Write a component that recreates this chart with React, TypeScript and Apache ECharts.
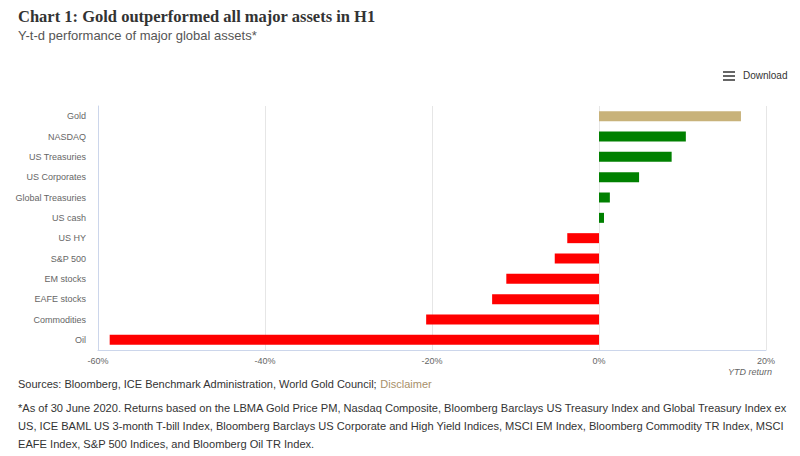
import React, { useEffect, useRef } from "react";
import * as echarts from "echarts";

const categories = [
  "Gold",
  "NASDAQ",
  "US Treasuries",
  "US Corporates",
  "Global Treasuries",
  "US cash",
  "US HY",
  "S&P 500",
  "EM stocks",
  "EAFE stocks",
  "Commodities",
  "Oil",
];
const values = [17.0, 10.4, 8.7, 4.8, 1.3, 0.6, -3.8, -5.3, -11.1, -12.8, -20.7, -58.6];
const xTicks = [-60, -40, -20, 0, 20];

const GOLD = "#c8b27a";
const GREEN = "#008000";
const RED = "#ff0000";

const SANS = "'Liberation Sans', Arial, sans-serif";

export default function App() {
  const ref = useRef<HTMLDivElement>(null);
  useEffect(() => {
    if (!ref.current) return;
    const chart = echarts.init(ref.current, undefined, { renderer: "svg" });
    const data = values.map((v, i) => ({
      value: v,
      itemStyle: { color: i === 0 ? GOLD : v >= 0 ? GREEN : RED },
    }));
    chart.setOption({
      animation: false,
      backgroundColor: "#ffffff",
      grid: { left: 98, right: 34, top: 106, bottom: 106 },
      xAxis: {
        type: "value",
        min: xTicks[0],
        max: xTicks[xTicks.length - 1],
        interval: 20,
        axisLine: { show: true, onZero: false, lineStyle: { color: "#ccd6eb" } },
        axisTick: { show: false },
        splitLine: { show: true, lineStyle: { color: "#e6e6e6" } },
        axisLabel: {
          formatter: (v: number) => `${v}%`,
          color: "#666",
          fontFamily: SANS,
          fontSize: 9,
          margin: 6,
        },
      },
      yAxis: {
        type: "category",
        data: categories,
        inverse: true,
        axisLine: { show: true, onZero: false, lineStyle: { color: "#ccd6eb" } },
        axisTick: { show: false },
        axisLabel: {
          color: "#666",
          fontFamily: SANS,
          fontSize: 9,
          margin: 12,
        },
      },
      series: [
        {
          type: "bar",
          data,
          barWidth: 10,
        },
      ],
      graphic: [
        {
          type: "text",
          left: 18,
          top: 8,
          style: {
            text: "Chart 1: Gold outperformed all major assets in H1",
            fontFamily: "'Liberation Serif', 'DejaVu Serif', serif",
            fontWeight: "bold",
            fontSize: 16.5,
            fill: "#333",
          },
        },
        {
          type: "text",
          left: 18,
          top: 29,
          style: {
            text: "Y-t-d performance of major global assets*",
            fontFamily: SANS,
            fontSize: 13,
            fill: "#555",
          },
        },
        { type: "rect", shape: { x: 723, y: 71, width: 12, height: 2 }, style: { fill: "#666" } },
        { type: "rect", shape: { x: 723, y: 75, width: 12, height: 2 }, style: { fill: "#666" } },
        { type: "rect", shape: { x: 723, y: 79, width: 12, height: 2 }, style: { fill: "#666" } },
        {
          type: "text",
          left: 743,
          top: 70,
          style: { text: "Download", fontFamily: SANS, fontSize: 10, fill: "#333" },
        },
        {
          type: "text",
          right: 28,
          top: 367,
          style: {
            text: "YTD return",
            fontFamily: SANS,
            fontSize: 9,
            fontStyle: "italic",
            fill: "#666",
          },
        },
        {
          type: "text",
          left: 18,
          top: 378,
          style: {
            rich: {
              a: { fontFamily: SANS, fontSize: 11, fill: "#333" },
              b: { fontFamily: SANS, fontSize: 11, fill: "#a8906a" },
            },
            text: "{a|Sources: Bloomberg, ICE Benchmark Administration, World Gold Council; }{b|Disclaimer}",
          },
        },
        {
          type: "text",
          left: 18,
          top: 399,
          style: {
            text:
              "*As of 30 June 2020. Returns based on the LBMA Gold Price PM, Nasdaq Composite, Bloomberg Barclays US Treasury Index and Global Treasury Index ex\nUS, ICE BAML US 3-month T-bill Index, Bloomberg Barclays US Corporate and High Yield Indices, MSCI EM Index, Bloomberg Commodity TR Index, MSCI\nEAFE Index, S&P 500 Indices, and Bloomberg Oil TR Index.",
            fontFamily: SANS,
            fontSize: 11.1,
            lineHeight: 18,
            fill: "#333",
          },
        },
      ],
    });
    return () => chart.dispose();
  }, []);
  return <div ref={ref} style={{ width: 800, height: 456, position: "absolute", left: 0, top: 0 }} />;
}
